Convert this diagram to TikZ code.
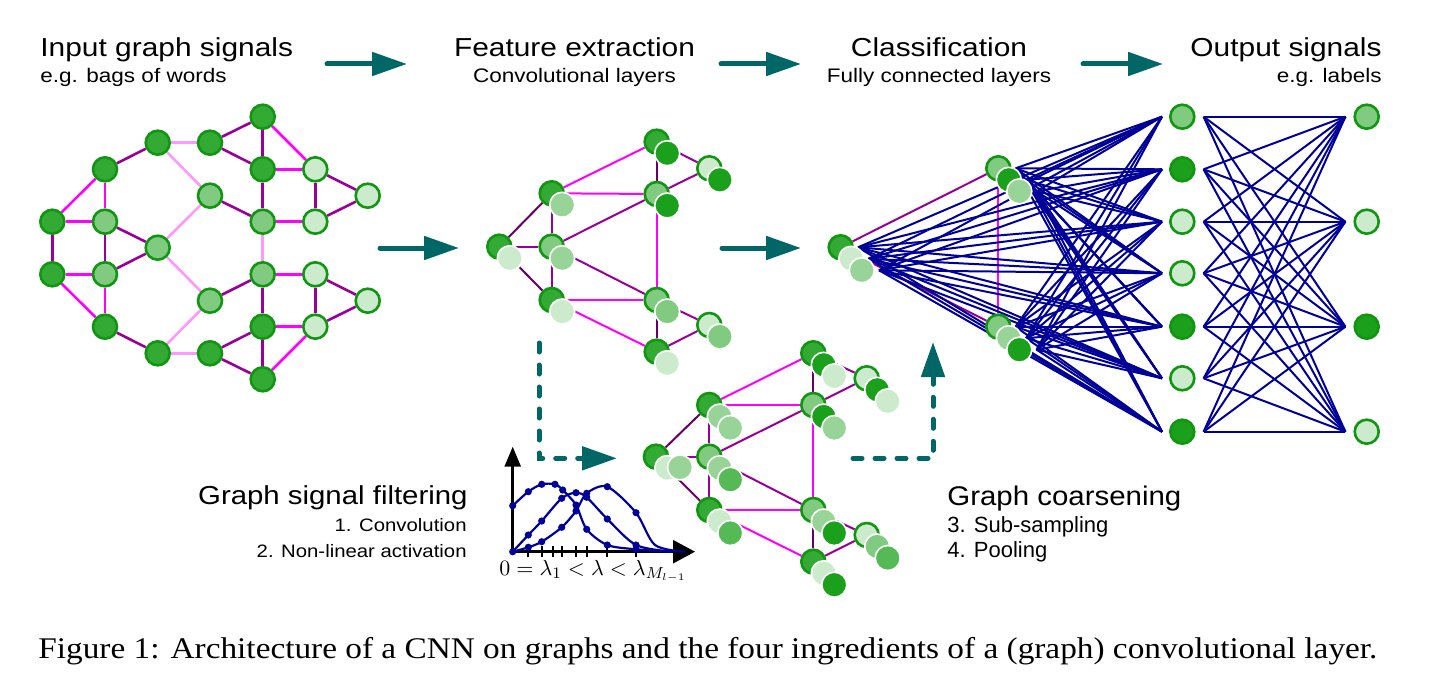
\documentclass[tikz,border=0pt]{standalone}
\usepackage[no-math]{fontspec}
\setmainfont{Liberation Serif}
\newfontfamily\fA[FakeStretch=1.15]{Liberation Sans}
\newfontfamily\fB[FakeStretch=1.13]{Liberation Sans}
\newfontfamily\fC{Liberation Sans}
\newfontfamily\fD[FakeStretch=1.09]{Liberation Sans}
\newfontfamily\fCap[FakeStretch=1.11]{Liberation Serif}
\usetikzlibrary{arrows.meta,calc}
\pgfdeclarelayer{bg}
\pgfsetlayers{bg,main}
\definecolor{gborder}{RGB}{17,150,17}
\definecolor{gdark}{RGB}{51,170,51}
\definecolor{gmed}{RGB}{128,203,128}
\definecolor{glight}{RGB}{204,235,204}
\definecolor{gml}{RGB}{152,212,152}
\definecolor{gdk}{RGB}{26,160,26}
\definecolor{gmd}{RGB}{85,185,85}
\definecolor{epurple}{RGB}{153,0,153}
\definecolor{edpurple}{RGB}{102,0,102}
\definecolor{emag}{RGB}{255,0,255}
\definecolor{epink}{RGB}{255,153,255}
\definecolor{tealx}{RGB}{0,102,102}
\definecolor{navyx}{RGB}{0,0,153}
\tikzset{
  gn/.style={circle,draw=gborder,line width=1.3pt,minimum size=12pt,inner sep=0pt},
  fr/.style={circle,draw=white,line width=0.8pt,minimum size=12.5pt,inner sep=0pt},
  le/.style={line width=1.3pt},
  se/.style={line width=1pt},
  pu/.style={draw=epurple},
  dp/.style={draw=edpurple},
  mg/.style={draw=emag},
  pk/.style={draw=epink},
  tarrow/.style={draw=tealx,line width=2.5pt,line cap=round,-{Triangle[length=17.5pt,width=11.5pt]}},
  darrow/.style={tarrow,dash pattern=on 4.5pt off 6.5pt},
  blue/.style={draw=navyx,line width=1pt},
  ttl/.style={font=\fA\fontsize{13}{15}\selectfont,inner sep=0pt},
  sub/.style={font=\fA\fontsize{9.8}{12}\selectfont,inner sep=0pt},
}
\begin{document}
\begin{tikzpicture}[x=0.5pt,y=-0.5pt]
\begin{pgfonlayer}{bg}
\fill[white] (0,0) rectangle (1440,674);
\end{pgfonlayer}
\useasboundingbox (0,0) rectangle (1440,674);

% ---------- titles ----------
\node[ttl,anchor=base west] (t1) at (40,57) {Input graph signals};
\node[sub,anchor=base west] (s1) at (40,83) {e.g. bags of words};
\node[ttl,anchor=base] (t2) at (574.5,57) {Feature extraction};
\node[sub,anchor=base] (s2) at (574.5,83) {Convolutional layers};
\node[ttl,anchor=base] (t3) at (939,57) {Classification};
\node[sub,anchor=base] (s3) at (939,83) {Fully connected layers};
\node[ttl,anchor=base east] (t4) at (1382,57) {Output signals};
\node[sub,anchor=base east] (s4) at (1382,83) {e.g. labels};

% ---------- solid arrows ----------
\coordinate (a1s) at (327,64); \coordinate (a1e) at (407,64);
\coordinate (a2s) at (721,64); \coordinate (a2e) at (801,64);
\coordinate (a3s) at (1083,64); \coordinate (a3e) at (1163,64);
\draw[tarrow] (a1s) -- (a1e);
\draw[tarrow] (a2s) -- (a2e);
\draw[tarrow] (a3s) -- (a3e);
\coordinate (a4s) at (380,248); \coordinate (a4e) at (459,248);
\coordinate (a5s) at (722,248); \coordinate (a5e) at (801,248);
\draw[tarrow] (a4s) -- (a4e);
\draw[tarrow] (a5s) -- (a5e);

% ---------- left graph ----------
\foreach \n/\x/\y/\c in {gA/52.3/221.7/gdark, gB/52.3/274.3/gdark, gC/105/169.3/gdark,
  gD/105/221.7/gmed, gE/105/274.3/gmed, gF/105/326.7/gdark, gG/157.7/142.7/gdark,
  gH/157.7/247.7/gmed, gI/157.7/353.3/gdark, gJ/210/142.7/gdark, gK/210/195.7/gmed,
  gL/210/300.7/gmed, gM/210/353.3/gdark, gN/262.7/116.7/gdark, gO/262.7/169.3/gdark,
  gP/262.7/221.7/gmed, gQ/262.7/274.3/gmed, gR/262.7/326.7/gdark, gS/262.7/379.3/gdark,
  gT/315.3/169.3/glight, gU/315.3/221.7/glight, gV/367.7/195.7/glight,
  gW/315.3/274.3/glight, gX/315.3/326.7/glight, gY/367.7/300.7/glight}
  \node[gn,fill=\c] (\n) at (\x,\y) {};
\begin{pgfonlayer}{bg}
\foreach \a/\b in {gA/gB,gD/gE,gD/gH,gE/gH,gC/gG,gF/gI,gJ/gN,gJ/gO,gN/gO,gK/gP,gP/gO,
  gT/gU,gT/gV,gU/gV,gL/gQ,gQ/gR,gW/gY,gW/gX,gX/gY,gM/gR,gM/gS,gR/gS}
  \draw[le,pu] (\a) -- (\b);
\foreach \a/\b in {gA/gC,gA/gD,gB/gE,gB/gF,gC/gD,gE/gF,gN/gT,gO/gT,gP/gU,gQ/gW,gR/gX,gS/gX}
  \draw[le,mg] (\a) -- (\b);
\foreach \a/\b in {gG/gJ,gG/gK,gH/gK,gH/gL,gI/gL,gI/gM,gP/gQ}
  \draw[le,pk] (\a) -- (\b);
\end{pgfonlayer}

% ---------- middle graph ----------
\foreach \n/\x/\y/\c/\d in {m1/499.3/246.7/gdark/glight, m2/551.7/193.3/gdark/gml,
  m3/551.7/246.7/gmed/gml, m4/551.7/300/gdark/glight, m5/656.7/141.7/gdark/gdk,
  m6/656.7/194/gmed/gdk, m7/709.3/168.3/glight/gdk, m8/656.7/300/gmed/gmed,
  m9/656.7/351.7/gdark/glight, m10/709.3/325/glight/gmed}
  {\node[gn,fill=\c] (\n a) at (\x,\y) {};
   \node[fr,fill=\d] (\n b) at ($(\n a)+(10.5,11.5)$) {};}
\begin{pgfonlayer}{bg}
\foreach \a/\b in {m1/m3,m2/m3,m3/m4,m3/m6,m3/m8,m5/m7,m6/m7,m8/m10,m9/m10}
  \draw[se,pu] (\a a) -- (\b a);
\foreach \a/\b in {m1/m2,m1/m4,m5/m6,m8/m9}
  \draw[se,dp] (\a a) -- (\b a);
\foreach \a/\b in {m2/m5,m2/m6,m4/m8,m4/m9,m6/m8}
  \draw[se,mg] (\a a) -- (\b a);
\end{pgfonlayer}

% ---------- lower graph ----------
\node[gn,fill=gdark] (l1a) at (656,456.7) {};
\node[fr,fill=glight] (l1b) at ($(l1a)+(11.3,11.3)$) {};
\node[fr,fill=gml] (l1c) at ($(l1a)+(24,10.7)$) {};
\foreach \n/\x/\y/\c/\d/\e in {l2/709.3/405/gdark/gml/gml, l3/709.3/456.7/gmed/gml/gmd,
  l4/709.3/510/gdark/glight/gmd, l5/813.3/353.3/gdark/gdk/glight,
  l6/813.3/405/gmed/gdk/gml, l7/866.7/378.3/glight/gdk/glight,
  l8/813.3/510/gmed/gml/gdk, l9/813.3/561.7/gdark/glight/gdk,
  l10/866.7/535/glight/gmed/gmd}
  {\node[gn,fill=\c] (\n a) at (\x,\y) {};
   \node[fr,fill=\d] (\n b) at ($(\n a)+(10.5,11.5)$) {};
   \node[fr,fill=\e] (\n c) at ($(\n a)+(21,23)$) {};}
\begin{pgfonlayer}{bg}
\foreach \a/\b in {l1/l3,l2/l3,l3/l4,l3/l6,l3/l8,l5/l7,l6/l7,l8/l10,l9/l10}
  \draw[se,pu] (\a a) -- (\b a);
\foreach \a/\b in {l1/l2,l1/l4,l5/l6,l8/l9}
  \draw[se,dp] (\a a) -- (\b a);
\foreach \a/\b in {l2/l5,l2/l6,l4/l8,l4/l9,l6/l8}
  \draw[se,mg] (\a a) -- (\b a);
\end{pgfonlayer}

% ---------- classification ----------
\foreach \n/\x/\y/\c/\d/\e in {c1/840.7/247.3/gdark/glight/gml,
  c2/998.3/168.3/gmed/gdk/gml, c3/998.3/326.7/gmed/gml/gdk}
  {\node[gn,fill=\c] (\n a) at (\x,\y) {};
   \node[fr,fill=\d] (\n b) at ($(\n a)+(10.5,11.5)$) {};
   \node[fr,fill=\e] (\n c) at ($(\n a)+(21,23)$) {};}
\foreach \n/\y/\c in {h1/116.7/gmed,h2/169.3/gdk,h3/221.7/glight,h4/273.3/glight,
  h5/326.7/gdk,h6/378.3/glight,h7/431.7/gdk}
  \node[gn,fill=\c] (\n) at (1182.3,\y) {};
\foreach \n/\y/\c in {o1/116.7/gmed,o2/221.7/glight,o3/326.7/gdk,o4/431.7/glight}
  \node[gn,fill=\c] (\n) at (1366.7,\y) {};
\begin{pgfonlayer}{bg}
\draw[se,pu] (c1a) -- (c2a);
\draw[se,pu] (c1a) -- (c3a);
\draw[se,mg] (c2a) -- (c3a);
\foreach \s in {c1a,c1b,c1c,c2a,c2b,c2c,c3a,c3b,c3c}
  \foreach \h in {h1,h2,h3,h4,h5,h6,h7}
    \draw[blue] ($(\s.east)+(4,0)$) -- ($(\h.west)+(-7,0)$);
\foreach \h in {h1,h2,h3,h4,h5,h6,h7}
  \foreach \o in {o1,o2,o3,o4}
    \draw[blue] ($(\h.east)+(8,0)$) -- ($(\o.west)+(-8,0)$);
\end{pgfonlayer}

% ---------- dashed arrows ----------
\coordinate (d1s) at (539,343); \coordinate (d1c) at (539,458.3); \coordinate (d1e) at (617,458.3);
\draw[darrow] (d1s) -- (d1c) -- (d1e);
\coordinate (d2s) at (853,458.3); \coordinate (d2c) at (933,458.3); \coordinate (d2e) at (933,342);
\draw[darrow] (d2s) -- (d2c) -- (d2e);

% ---------- filter plot ----------
\draw[line width=1.3pt,-{Triangle[length=10pt,width=8pt]}] (512.7,552.3) -- (512.7,446.7);
\draw[line width=1.3pt,-{Triangle[length=11pt,width=11.5pt]}] (512,551.7) -- (695,551.7);
\foreach \x in {528.3,541.7,553.3,561.7,576,586.7,607.3,636}
  \draw[line width=1pt] (\x,546) -- (\x,557);
\draw[navyx,line width=1.1pt] plot[smooth] coordinates {(512.7,505.7) (528.3,491.7) (541.7,484.3) (555,484.3) (562.7,490) (576,505) (586.7,529.3) (607.3,545) (636,549.3) (672,551.7)};
\draw[navyx,line width=1.1pt] plot[smooth] coordinates {(512.7,551.7) (528.3,535) (541.7,521) (561.7,498.3) (576,492.7) (586.7,497.3) (607.3,519) (636,545) (672,551.7)};
\draw[navyx,line width=1.1pt] plot[smooth] coordinates {(512.7,551.7) (528.3,547.3) (541.7,541.7) (561.7,527.3) (576,511) (586.7,493.3) (607.3,486.7) (636,512.7) (655,545) (685,551.7)};
\foreach \x/\y in {512.7/505.7,528.3/491.7,541.7/484.3,555/484.3,562.7/490,576/505,586.7/529.3,607.3/545,636/549.3,
  512.7/551.7,528.3/535,541.7/521,561.7/498.3,576/492.7,586.7/497.3,607.3/519,636/545,
  528.3/547.3,541.7/541.7,561.7/527.3,576/511,586.7/493.3,607.3/486.7,636/512.7}
  \fill[navyx] (\x,\y) circle[radius=1.8pt];
\node[font=\fontsize{11}{13}\selectfont,anchor=base,inner sep=0pt] (lam) at (593,575) {$0=\lambda_1<\lambda<\lambda_{M_{l-1}}$};

% ---------- lower texts ----------
\node[font=\fB\fontsize{13}{15}\selectfont,anchor=base east,inner sep=0pt] (f1) at (468,504) {Graph signal filtering};
\node[font=\fB\fontsize{9}{12}\selectfont,anchor=base east,inner sep=0pt] (f2) at (467,531) {1. Convolution};
\node[font=\fB\fontsize{9}{12}\selectfont,anchor=base east,inner sep=0pt] (f3) at (467,557) {2. Non-linear activation};
\node[font=\fD\fontsize{13.5}{15}\selectfont,anchor=base west,inner sep=0pt] (g1) at (947,505) {Graph coarsening};
\node[font=\fC\fontsize{11}{13}\selectfont,anchor=base west,inner sep=0pt] (g2) at (947,532) {3. Sub-sampling};
\node[font=\fC\fontsize{11}{13}\selectfont,anchor=base west,inner sep=0pt] (g3) at (947,557) {4. Pooling};

% ---------- caption ----------
\node[font=\fCap\fontsize{15}{17}\selectfont,anchor=base west,inner sep=0pt] (cap) at (38,658) {Figure 1: Architecture of a CNN on graphs and the four ingredients of a (graph) convolutional layer.};
\end{tikzpicture}
\end{document}
